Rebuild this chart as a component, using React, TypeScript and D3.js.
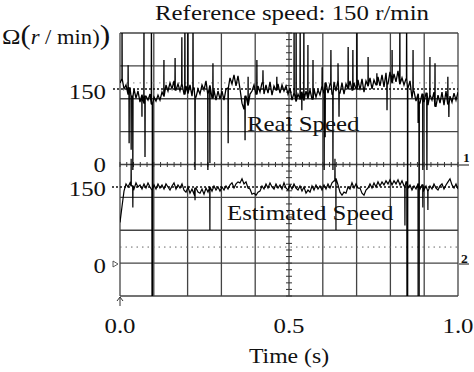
import React, { useRef, useEffect } from "react";
import * as d3 from "d3";

// real speed trace, r/min, evenly spaced over 0..1 s
const realBase = [
  162, 170, 150, 158, 140, 152, 136, 150, 132, 146,
  124, 138, 122, 136, 128, 140, 120, 134, 126, 138,
  128, 144, 136, 158, 146, 162, 150, 166, 148, 160,
  146, 160, 140, 156, 142, 158, 136, 152, 134, 150,
  140, 158, 148, 166, 140, 156, 132, 148, 128, 146,
  130, 146, 128, 150, 152, 172, 160, 178, 156, 176,
  150, 122, 110, 136, 118, 140, 146, 158, 140, 156,
  144, 162, 140, 158, 142, 164, 138, 156, 148, 160,
  142, 158, 146, 156, 140, 152, 128, 142, 126, 140,
  130, 144, 128, 146, 132, 148, 130, 150, 134, 148,
  138, 156, 140, 162, 142, 160, 140, 164, 146, 166,
  142, 162, 140, 160, 150, 166, 148, 162, 150, 168,
  148, 170, 144, 166, 156, 172, 150, 168, 158, 174,
  156, 178, 154, 182, 160, 184, 162, 180, 164, 186,
  160, 172, 158, 170, 152, 166, 132, 146, 126, 140,
  122, 140, 124, 142, 118, 138, 128, 144, 116, 138,
  122, 144, 118, 146, 120, 136, 124, 142, 128, 144,
];

// spikes on the real speed trace: [time s, r/min]
const realSpikes: [number, number][] = [
  [0.006, 300], [0.024, 197], [0.027, 43], [0.033, 30], [0.038, -10],
  [0.065, 95], [0.071, 300], [0.074, 16], [0.093, 300], [0.096, -300],
  [0.13, 207], [0.163, 211], [0.183, 252], [0.192, 300], [0.201, 300],
  [0.216, 300], [0.222, -10], [0.26, -10], [0.266, 4], [0.275, 201],
  [0.32, 43], [0.37, 49], [0.379, 174], [0.405, 207], [0.423, 187],
  [0.464, 174], [0.515, 300], [0.521, 300], [0.533, 300], [0.538, 108],
  [0.544, 300], [0.556, 237], [0.571, 207], [0.598, 193], [0.604, -10],
  [0.607, 55], [0.624, 227], [0.63, -10], [0.645, 201], [0.648, 95],
  [0.675, 233], [0.689, 227], [0.701, 300], [0.734, 213], [0.76, 181],
  [0.79, 108], [0.805, 227], [0.828, 300], [0.848, 300], [0.851, -300],
  [0.867, 227], [0.882, 83], [0.885, -300], [0.896, -10], [0.908, -10],
  [0.917, 213], [0.932, 201], [0.97, 174], [0.973, 95],
];

// estimated speed trace, r/min
const estBase = [
  81, 112, 142, 156, 150, 158, 152, 146, 158, 150,
  154, 146, 156, 148, 158, 150, 144, 154, 146, 156,
  148, 154, 146, 156, 150, 144, 152, 158, 146, 154,
  148, 156, 144, 140, 150, 138, 146, 136, 148, 140,
  138, 146, 136, 148, 140, 150, 142, 152, 144, 150,
  142, 150, 144, 152, 146, 154, 158, 148, 156, 160,
  158, 166, 156, 160, 148, 146, 136, 138, 134, 140,
  142, 152, 146, 156, 148, 158, 150, 146, 156, 148,
  154, 146, 158, 148, 144, 154, 146, 156, 148, 144,
  152, 142, 150, 138, 144, 140, 152, 144, 154, 146,
  152, 144, 154, 146, 156, 148, 158, 162, 166, 154,
  140, 134, 140, 138, 150, 146, 158, 148, 156, 148,
  148, 138, 134, 144, 148, 156, 148, 158, 150, 160,
  152, 160, 154, 162, 156, 164, 154, 162, 156, 164,
  154, 162, 152, 160, 148, 154, 144, 152, 146, 156,
  146, 154, 144, 152, 142, 152, 146, 156, 148, 144,
  152, 156, 146, 154, 160, 166, 154, 148, 156, 146,
];

const estSpikes: [number, number][] = [
  [0.033, 205], [0.038, 110], [0.095, -100], [0.222, 124], [0.266, 66],
  [0.636, 205], [0.639, 66], [0.843, 75], [0.849, -100], [0.882, -100],
  [0.896, 110], [0.911, 105],
];

const xTicks = [0, 0.5, 1];
const yTicks = [0, 150];

// spikes become thin vertical strokes out of the nearest trace sample
const merge = (base: number[], spikes: [number, number][]) => {
  const n = base.length - 1;
  const pts = base.map((v, i) => ({ t: i / n, v }));
  spikes.forEach(([t, v]) => {
    const b = base[Math.round(t * n)];
    pts.push({ t: t - 0.0005, v: b }, { t, v }, { t: t + 0.0005, v: b });
  });
  return pts.sort((a, b) => a.t - b.t);
};

const App: React.FC = () => {
  const svgRef = useRef<SVGSVGElement | null>(null);

  useEffect(() => {
    const svg = d3.select(svgRef.current);
    svg.selectAll("*").remove();

    const left = 120, right = 458, top = 33, bottom = 296;
    const font = "'Liberation Serif', 'Times New Roman', serif";
    const sx = 1.13; // scan is a little wide

    const x = d3.scaleLinear().domain([0, 1]).range([left, right]);
    const yReal = d3.scaleLinear().domain([0, 150]).range([165, 89]);
    const yEst = d3.scaleLinear().domain([0, 150]).range([264, 187]);

    svg.append("rect").attr("width", 474).attr("height", 372).attr("fill", "#fff");

    const text = (tx: number, ty: number, s: string, size: number, anchor = "start") =>
      svg
        .append("text")
        .attr("transform", `translate(${tx},${ty}) scale(${sx},1)`)
        .attr("text-anchor", anchor)
        .attr("font-family", font)
        .attr("font-size", size)
        .attr("fill", "#111")
        .text(s);

    // graticule
    const grid = svg.append("g").attr("stroke", "#444").attr("stroke-width", 1.3);
    d3.range(11).forEach((i) => {
      const gx = left + ((right - left) * i) / 10;
      grid.append("line").attr("x1", gx).attr("x2", gx).attr("y1", top).attr("y2", bottom);
    });
    d3.range(9).forEach((i) => {
      const gy = top + ((bottom - top) * i) / 8;
      grid.append("line").attr("x1", left).attr("x2", right).attr("y1", gy).attr("y2", gy);
    });

    const ticks = svg.append("g").attr("stroke", "#333").attr("stroke-width", 1);
    const cx = x(0.5);
    const rowH = (bottom - top) / 8;
    d3.range(41).forEach((i) => {
      const ty = top + (rowH * i) / 5;
      ticks.append("line").attr("x1", cx - 3).attr("x2", cx + 3).attr("y1", ty).attr("y2", ty);
    });
    const midY = top + rowH * 4;
    const colW = (right - left) / 10;
    d3.range(51).forEach((i) => {
      const tx = left + (colW * i) / 5;
      ticks.append("line").attr("x1", tx).attr("x2", tx).attr("y1", midY - 2.5).attr("y2", midY + 2.5);
    });

    // reference dotted lines
    svg.append("line").attr("x1", 113).attr("x2", right).attr("y1", yReal(150)).attr("y2", yReal(150))
      .attr("stroke", "#111").attr("stroke-width", 1.3).attr("stroke-dasharray", "2,2");
    svg.append("line").attr("x1", 112).attr("x2", right).attr("y1", yEst(150)).attr("y2", yEst(150))
      .attr("stroke", "#111").attr("stroke-width", 1.3).attr("stroke-dasharray", "2,2");
    svg.append("line").attr("x1", left).attr("x2", right).attr("y1", yReal(162)).attr("y2", yReal(162))
      .attr("stroke", "#888").attr("stroke-width", 1).attr("stroke-dasharray", "1.5,5");
    svg.append("line").attr("x1", left).attr("x2", right).attr("y1", yEst(33)).attr("y2", yEst(33))
      .attr("stroke", "#666").attr("stroke-width", 1).attr("stroke-dasharray", "1.5,4");

    // traces
    svg.append("clipPath").attr("id", "plotClip").append("rect")
      .attr("x", left).attr("y", top).attr("width", right - left).attr("height", bottom - top);

    const realLine = d3.line<{ t: number; v: number }>().x((d) => x(d.t)).y((d) => yReal(d.v));
    const estLine = d3.line<{ t: number; v: number }>().x((d) => x(d.t)).y((d) => yEst(d.v));

    svg.append("path").datum(merge(realBase, realSpikes)).attr("d", realLine as any)
      .attr("fill", "none").attr("stroke", "#000").attr("stroke-width", 1.3)
      .attr("clip-path", "url(#plotClip)");
    svg.append("path").datum(merge(estBase, estSpikes)).attr("d", estLine as any)
      .attr("fill", "none").attr("stroke", "#000").attr("stroke-width", 1.2)
      .attr("clip-path", "url(#plotClip)");

    // tick labels
    yTicks.forEach((v) => {
      text(106, yReal(v) + (v === 0 ? 7 : 10), String(v), 22, "end");
      text(106, yEst(v) + 9, String(v), 22, "end");
    });
    xTicks.forEach((v) => text(x(v), 333, v.toFixed(1), 22, "middle"));

    // channel markers
    text(463, yReal(0) - 3, "1", 12).attr("font-weight", "bold");
    svg.append("line").attr("x1", 459).attr("x2", 469).attr("y1", yReal(0)).attr("y2", yReal(0))
      .attr("stroke", "#111").attr("stroke-width", 1);
    text(461, yEst(0) - 1, "2", 12).attr("font-weight", "bold");
    svg.append("line").attr("x1", 459).attr("x2", 469).attr("y1", yEst(0)).attr("y2", yEst(0))
      .attr("stroke", "#111").attr("stroke-width", 1);
    svg.append("path").attr("d", `M113,${yEst(0) - 3} L118,${yEst(0)} L113,${yEst(0) + 3} Z`)
      .attr("fill", "none").attr("stroke", "#333").attr("stroke-width", 0.8);
    svg.append("path").attr("d", `M${left},306 L${left},297 M${left - 3},301 L${left},297 L${left + 3},301`)
      .attr("fill", "none").attr("stroke", "#333").attr("stroke-width", 1);

    // titles
    text(292, 20, "Reference speed: 150 r/min", 22, "middle");
    text(289, 363, "Time (s)", 21, "middle");
    text(247, 131, "Real Speed", 22);
    text(227, 220, "Estimated Speed", 22);

    const yl = svg.append("text")
      .attr("transform", `translate(2,44) scale(${sx},1)`)
      .attr("font-family", font).attr("fill", "#111");
    yl.append("tspan").attr("font-size", 22).text("Ω");
    yl.append("tspan").attr("font-size", 27).text("(");
    yl.append("tspan").attr("font-size", 20).attr("font-style", "italic").text("r");
    yl.append("tspan").attr("font-size", 20).text(" / min)");
    yl.append("tspan").attr("font-size", 28).text(")");
  }, []);

  return (
    <svg
      ref={svgRef}
      width={474}
      height={372}
      style={{ position: "absolute", left: 0, top: 0 }}
    />
  );
};

export default App;
